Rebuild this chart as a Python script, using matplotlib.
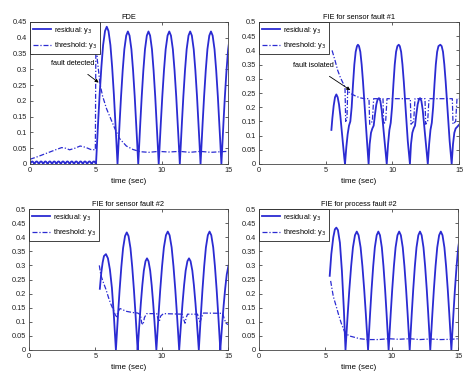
import numpy as np
import matplotlib
matplotlib.use("Agg")
import matplotlib.pyplot as plt

plt.rcParams['font.family'] = ['Liberation Sans', 'DejaVu Sans']

# ---------------- data ----------------
ARC_FRAC = [0, 0.05, 0.1, 0.17, 0.25, 0.33, 0.42, 0.5, 0.58, 0.67, 0.75, 0.83, 0.9, 0.95, 1]
ARC_SHAPE = [0, 0.156, 0.309, 0.509, 0.707, 0.866, 0.969, 1, 0.969, 0.866, 0.707, 0.509, 0.309, 0.156, 0]

# FDE
fde_ripple_zeros = [0, 0.33, 0.67, 1.0, 1.33, 1.67, 2.0, 2.33, 2.67, 3.0, 3.33, 3.67, 4.0, 4.33, 4.67, 5.0]
fde_ripple_peak = 0.008
fde_res_zeros = [5.0, 6.63, 8.2, 9.75, 11.35, 12.92, 14.5, 16.05]
fde_res_peaks = [0.435, 0.42, 0.42, 0.42, 0.42, 0.42, 0.42]
fde_thr_t = [0, 0.5, 1.0, 1.5, 2.0, 2.4, 2.7, 3.0, 3.4, 3.8, 4.2, 4.6, 4.95, 5.0, 5.1, 5.3, 5.5,
             5.8, 6.07, 6.4, 6.8, 7.3, 7.8, 8.35, 9.0, 9.75, 10.5, 11.35, 12.1, 12.9, 13.7, 14.5, 15.0]
fde_thr_y = [0.015, 0.022, 0.03, 0.038, 0.046, 0.052, 0.05, 0.045, 0.05, 0.057, 0.053, 0.046, 0.045,
             0.46, 0.33, 0.255, 0.215, 0.175, 0.148, 0.115, 0.08, 0.057, 0.046, 0.039, 0.037, 0.04,
             0.038, 0.04, 0.037, 0.04, 0.037, 0.039, 0.04]

# FIE sensor fault #1
s1_res_t = [5.43, 5.50, 5.60, 5.70, 5.80, 5.90, 6.00, 6.10, 6.20, 6.30, 6.40, 6.45,
            6.55, 6.65, 6.75, 6.85, 6.95, 7.05, 7.15, 7.25, 7.35, 7.42, 7.50, 7.60, 7.70, 7.80, 7.90, 8.00, 8.10, 8.22,
            8.30, 8.40, 8.50, 8.60, 8.70, 8.80, 8.90, 9.00, 9.10, 9.20, 9.30, 9.40, 9.50, 9.58,
            9.68, 9.78, 9.88, 9.98, 10.08, 10.18, 10.28, 10.38, 10.48, 10.56, 10.66, 10.76, 10.86, 10.96, 11.06, 11.16, 11.32,
            11.40, 11.50, 11.60, 11.70, 11.80, 11.90, 12.00, 12.08, 12.18, 12.28, 12.38, 12.48, 12.58, 12.66,
            12.76, 12.86, 12.96, 13.06, 13.16, 13.26, 13.36, 13.46, 13.60, 13.70, 13.80, 13.90, 14.00, 14.10, 14.20, 14.30, 14.45,
            14.55, 14.65, 14.75, 14.85, 15.00]
s1_res_y = [0.12, 0.16, 0.205, 0.235, 0.245, 0.235, 0.21, 0.17, 0.12, 0.07, 0.02, 0.0,
            0.06, 0.105, 0.135, 0.15, 0.20, 0.28, 0.35, 0.395, 0.415, 0.42, 0.415, 0.395, 0.35, 0.29, 0.22, 0.15, 0.08, 0.0,
            0.07, 0.11, 0.125, 0.135, 0.175, 0.21, 0.228, 0.232, 0.222, 0.19, 0.14, 0.09, 0.04, 0.0,
            0.07, 0.12, 0.145, 0.20, 0.28, 0.35, 0.395, 0.415, 0.42, 0.415, 0.395, 0.35, 0.29, 0.22, 0.15, 0.08, 0.0,
            0.07, 0.11, 0.125, 0.135, 0.175, 0.21, 0.228, 0.232, 0.222, 0.19, 0.14, 0.09, 0.04, 0.0,
            0.07, 0.12, 0.145, 0.20, 0.28, 0.35, 0.395, 0.415, 0.42, 0.415, 0.395, 0.35, 0.29, 0.22, 0.15, 0.08, 0.0,
            0.07, 0.11, 0.125, 0.13, 0.138]
s1_thr_t = [5.48, 5.7, 5.9, 6.1, 6.3, 6.45, 6.5, 6.6, 6.65, 6.8, 7.0, 7.3, 7.6, 7.9, 8.25, 8.3, 8.5, 8.6,
            9.3, 9.35, 9.5, 9.6, 11.35, 11.4, 11.6, 11.7, 12.45, 12.5, 12.65, 12.75, 14.5, 14.55, 14.75, 14.85, 15.0]
s1_thr_y = [0.40, 0.365, 0.33, 0.305, 0.285, 0.27, 0.15, 0.16, 0.26, 0.25, 0.245, 0.238, 0.233, 0.23, 0.23, 0.14, 0.15, 0.23,
            0.23, 0.14, 0.15, 0.23, 0.23, 0.14, 0.15, 0.23, 0.23, 0.14, 0.15, 0.23, 0.23, 0.14, 0.15, 0.23, 0.23]

# FIE sensor fault #2
s2_first_t = [5.34, 5.45, 5.55, 5.65, 5.8, 5.95, 6.1, 6.25, 6.4, 6.55]
s2_first_y = [0.217, 0.275, 0.31, 0.333, 0.34, 0.325, 0.285, 0.22, 0.12, 0.0]
s2_res_zeros = [6.55, 8.19, 9.6, 11.32, 12.8, 14.42, 15.9]
s2_res_peaks = [0.417, 0.325, 0.42, 0.325, 0.42, 0.31]
s2_thr_t = [5.3, 5.4, 5.47, 5.6, 5.8, 6.0, 6.15, 6.35, 6.5, 6.6, 6.7, 6.86, 7.1, 7.36, 7.8, 8.2, 8.4, 8.5, 8.6,
            8.7, 8.87, 9.63, 9.72, 9.82, 9.92, 10.13, 11.55, 11.65, 11.76, 11.85, 11.95, 12.7, 12.8, 12.9, 13.0,
            13.15, 14.6, 14.72, 14.85, 15.0]
s2_thr_y = [0.30, 0.27, 0.258, 0.24, 0.215, 0.185, 0.165, 0.143, 0.125, 0.118, 0.135, 0.147, 0.142, 0.137, 0.133,
            0.131, 0.125, 0.095, 0.09, 0.115, 0.129, 0.129, 0.11, 0.10, 0.12, 0.129, 0.127, 0.11, 0.095, 0.115,
            0.127, 0.127, 0.11, 0.10, 0.115, 0.131, 0.13, 0.11, 0.095, 0.09]

# FIE process fault #2
p2_first_t = [5.33, 5.45, 5.6, 5.72, 5.83, 5.95, 6.1, 6.25, 6.4, 6.52]
p2_first_y = [0.263, 0.34, 0.40, 0.428, 0.434, 0.425, 0.38, 0.28, 0.14, 0.0]
p2_res_zeros = [6.52, 8.22, 9.77, 11.36, 12.91, 14.5, 16.07]
p2_res_peaks = [0.42, 0.42, 0.42, 0.42, 0.42, 0.42]
p2_thr_t = [5.4, 5.6, 5.85, 6.0, 6.2, 6.45, 6.6, 6.8, 7.2, 7.6, 8.2, 9.0, 9.77, 10.5, 11.36, 12.1, 12.91, 13.7, 14.5, 15.0]
p2_thr_y = [0.245, 0.19, 0.15, 0.125, 0.095, 0.065, 0.057, 0.05, 0.045, 0.04, 0.037, 0.037, 0.04, 0.038,
            0.04, 0.037, 0.039, 0.037, 0.038, 0.04]

titles = ["FDE", "FIE for sensor fault #1", "FIE for sensor fault #2", "FIE for process fault #2"]
x_ticks = [0, 5, 10, 15]
y_ticks_fde = [0, 0.05, 0.1, 0.15, 0.2, 0.25, 0.3, 0.35, 0.4, 0.45]
y_labels_fde = ["0", "0.05", "0.1", "0.15", "0.2", "0.25", "0.3", "0.35", "0.4", "0.45"]
y_ticks = [0, 0.05, 0.1, 0.15, 0.2, 0.25, 0.3, 0.35, 0.4, 0.45, 0.5]
y_labels = ["0", "0.05", "0.1", "0.15", "0.2", "0.25", "0.3", "0.35", "0.4", "0.45", "0.5"]


def arcs(zeros, peaks):
    t, y = [], []
    for i, p in enumerate(peaks):
        z0, z1 = zeros[i], zeros[i + 1]
        for f, s in zip(ARC_FRAC, ARC_SHAPE):
            t.append(z0 + f * (z1 - z0))
            y.append(p * s)
    return t, y


BLUE = '#2b2bd2'
FS = 5.3

fig = plt.figure(figsize=(4.74, 3.86), dpi=100)
rects = [
    (30 / 474, 1 - 164 / 386, 198 / 474, 142 / 386),
    (259 / 474, 1 - 164 / 386, 200 / 474, 142 / 386),
    (29 / 474, 1 - 350 / 386, 199 / 474, 141 / 386),
    (259 / 474, 1 - 350 / 386, 199 / 474, 141 / 386),
]

# residual series per panel
rt0a, ry0a = arcs(fde_ripple_zeros, [fde_ripple_peak] * (len(fde_ripple_zeros) - 1))
rt0b, ry0b = arcs(fde_res_zeros, fde_res_peaks)
res = [
    (rt0a + rt0b, ry0a + ry0b),
    (s1_res_t, s1_res_y),
    None, None,
]
t2, y2 = arcs(s2_res_zeros, s2_res_peaks)
res[2] = (s2_first_t + t2, s2_first_y + y2)
t3, y3 = arcs(p2_res_zeros, p2_res_peaks)
res[3] = (p2_first_t + t3, p2_first_y + y3)
thr = [(fde_thr_t, fde_thr_y), (s1_thr_t, s1_thr_y), (s2_thr_t, s2_thr_y), (p2_thr_t, p2_thr_y)]

for i in range(4):
    ax = fig.add_axes(rects[i])
    ax.plot(res[i][0], res[i][1], '-', color=BLUE, lw=1.3, label='residual: y$_3$')
    ax.plot(thr[i][0], thr[i][1], '-.', color=BLUE, lw=0.9, label='threshold: y$_3$',
            dashes=(4, 1.5, 1, 1.5))
    ax.set_xlim(0, 15)
    if i == 0:
        ax.set_ylim(0, 0.45)
        ax.set_yticks(y_ticks_fde)
        ax.set_yticklabels(y_labels_fde)
    else:
        ax.set_ylim(0, 0.5)
        ax.set_yticks(y_ticks)
        ax.set_yticklabels(y_labels)
    ax.set_xticks(x_ticks)
    ax.set_xticklabels([str(v) for v in x_ticks])
    ax.tick_params(direction='in', length=2.5, width=0.5, labelsize=FS, pad=2,
                   top=True, right=True, colors='#222222')
    for sp in ax.spines.values():
        sp.set_linewidth(0.6)
        sp.set_color('#444444')
    ax.set_title(titles[i], fontsize=FS, pad=2)
    ax.set_xlabel('time (sec)', fontsize=5.8, labelpad=3)
    leg = ax.legend(loc='upper left', fontsize=FS, borderaxespad=0, handlelength=2.5,
                    handletextpad=0.4, borderpad=0.4, labelspacing=0.6, fancybox=False,
                    framealpha=1)
    leg.get_frame().set_edgecolor('#222222')
    leg.get_frame().set_linewidth(0.6)
    if i == 0:
        ax.annotate('fault detected', xy=(5.2, 0.258), xytext=(3.25, 0.32), fontsize=FS,
                    ha='center', va='center',
                    arrowprops=dict(arrowstyle='-|>', color='black', lw=0.6,
                                    mutation_scale=5, shrinkA=6, shrinkB=0))
    if i == 1:
        ax.annotate('fault isolated', xy=(6.85, 0.26), xytext=(4.05, 0.347), fontsize=FS,
                    ha='center', va='center',
                    arrowprops=dict(arrowstyle='-|>', color='black', lw=0.6,
                                    mutation_scale=5, shrinkA=6, shrinkB=0))

fig.savefig('out.png', dpi=100)
